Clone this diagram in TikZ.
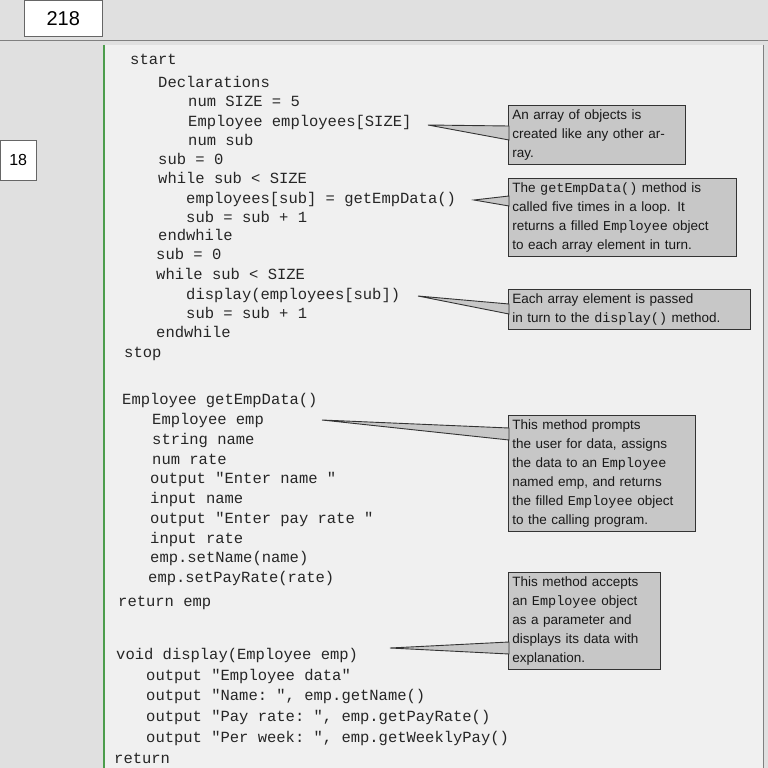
\documentclass[tikz,border=0pt]{standalone}
\usepackage{fontspec}
\setmonofont{Liberation Mono}
\setsansfont{Liberation Sans}
\begin{document}
\begin{tikzpicture}[x=1pt,y=-1pt,
  code/.style={anchor=base west,inner sep=0,font=\fontsize{15.5}{18}\ttfamily,text=black!85},
  call/.style={draw=black!80,line width=0.9pt,fill=black!22,anchor=north west,inner sep=4pt,align=left,font=\fontsize{13.5}{19}\sffamily,text=black!90},
  ptr/.style={draw=black!80,line width=0.9pt,fill=black!22}]
\fill[black!12] (0,0) rectangle (768,768);
\useasboundingbox (0,0) rectangle (768,768);
\fill[black!6] (104,45) rectangle (763,768);
\draw[black!50,line width=0.8pt] (0,40) -- (768,40);
\node[draw=black!60,fill=white,minimum width=78,minimum height=36,anchor=north west,font=\fontsize{20}{22}\sffamily] (pg) at (24,0) {218};
\node[draw=black!60,fill=white,minimum width=36,minimum height=40,anchor=north west,font=\fontsize{16}{18}\sffamily] (pg2) at (0,140) {18};
\draw[green!45!black!70,line width=2pt] (104,45) -- (104,768);
\draw[black!50,line width=0.8pt] (763,45) -- (763,768);
% code
\foreach \x/\y/\t [count=\i] in {
130/65/start,158/87/Declarations,188/106/{num SIZE = 5},188/126/{Employee employees[SIZE]},188/145/num sub,
158/164/{sub = 0},158/183/{while sub < SIZE},186/203/{employees[sub] = getEmpData()},186/222/{sub = sub + 1},
158/240/endwhile,156/259/{sub = 0},156/279/{while sub < SIZE},186/299/{display(employees[sub])},186/318/{sub = sub + 1},
156/337/endwhile,124/357/stop,
122/404/{Employee getEmpData()},152/424/{Employee emp},152/444/{string name},152/464/{num rate},
150/483/{output "Enter name "},150/503/{input name},150/523/{output "Enter pay rate "},150/543/{input rate},
150/562/{emp.setName(name)},148/582/{emp.setPayRate(rate)},118/606/{return emp},
116/659/{void display(Employee emp)},146/680/{output "Employee data"},146/700/{output "Name: ", emp.getName()},
146/721/{output "Pay rate: ", emp.getPayRate()},146/742/{output "Per week: ", emp.getWeeklyPay()},114/763/return}
  \node[code] (c\i) at (\x,\y) {\t};
% callouts
\node[call,text width=169] (b1) at (508,105) {An array of objects is\\created like any other array.};
\node[call,text width=220] (b2) at (508,178) {The \texttt{getEmpData()} method is\\called five times in a loop. It\\returns a filled \texttt{Employee} object\\to each array element in turn.};
\node[call,text width=234] (b3) at (508,289) {Each array element is passed\\in turn to the \texttt{display()} method.};
\node[call,text width=179] (b4) at (508,415) {This method prompts\\the user for data, assigns\\the data to an \texttt{Employee}\\named emp, and returns\\the filled \texttt{Employee} object\\to the calling program.};
\node[call,text width=144] (b5) at (508,572) {This method accepts\\an \texttt{Employee} object\\as a parameter and\\displays its data with\\explanation.};
\coordinate (t1) at (428,125);
\coordinate (t2) at (474,200);
\coordinate (t3) at (418,296);
\coordinate (t4) at (322,420);
\coordinate (t5) at (390,648);
\foreach \k/\a/\b in {1/126/140,2/196/206,3/304/314,4/428/440,5/642/654}
  \draw[ptr] (t\k) -- (509,\a) -- (509,\b) -- cycle;
\end{tikzpicture}
\end{document}
